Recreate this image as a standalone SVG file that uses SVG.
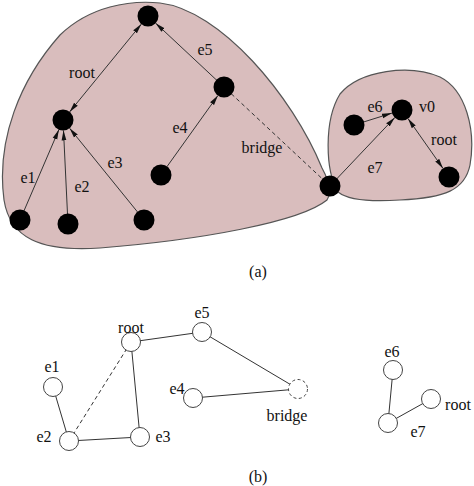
<svg xmlns="http://www.w3.org/2000/svg" width="474" height="486" viewBox="0 0 474 486">
<style>
.blob{fill:#d9bdbd;stroke:#555;stroke-width:1.2}
.dot{fill:#000}
.edge{stroke:#333;stroke-width:1;fill:none}
.dash{stroke:#333;stroke-width:1;fill:none;stroke-dasharray:4,3}
.oc{fill:#fff;stroke:#444;stroke-width:1}
.ocd{fill:#fff;stroke:#444;stroke-width:1;stroke-dasharray:3,2.5}
text{font-family:"Liberation Serif","Times New Roman",serif;font-size:16px;fill:#111}
</style>
<defs>
<marker id="ah" viewBox="0 0 10 6" refX="10" refY="3" markerWidth="10" markerHeight="6" markerUnits="userSpaceOnUse" orient="auto-start-reverse">
<path d="M0,0.6 L10,3 L0,5.4 Z" fill="#111"/>
</marker>
</defs>
<rect width="474" height="486" fill="#fff"/>
<g id="blob-left"><path class="blob" d="M327,200 C300,222 200,240 100,248 C40,252 10,238 4,200 C-4,140 20,80 60,35 C90,6 130,0 160,3 C220,10 292,95 322,168 Q334,190 327,200 Z"/></g>
<g id="blob-right"><path class="blob" d="M338,192 C325,170 324,120 340,94 C360,70 410,64 440,77 C466,90 476,130 470,165 C465,190 445,198 400,200 C370,202 348,200 338,192 Z"/></g>
<g id="connectors">
<line class="edge" x1="141.4" y1="24.1" x2="69.6" y2="111.9" marker-start="url(#ah)" marker-end="url(#ah)"/>
<line class="edge" x1="216.7" y1="80.2" x2="155.7" y2="23.2" marker-end="url(#ah)"/>
<line class="edge" x1="166.8" y1="166.9" x2="217.9" y2="95.5" marker-end="url(#ah)"/>
<line class="edge" x1="24" y1="210.8" x2="58.9" y2="129.6" marker-end="url(#ah)"/>
<line class="edge" x1="67.5" y1="214" x2="63.5" y2="130.5" marker-end="url(#ah)"/>
<line class="edge" x1="137.7" y1="212.2" x2="69.6" y2="128.2" marker-end="url(#ah)"/>
<line class="dash" x1="231.3" y1="93.8" x2="322.7" y2="179.2"/>
<line class="edge" x1="336.9" y1="178.7" x2="394.8" y2="117.6" marker-end="url(#ah)"/>
<line class="edge" x1="363.5" y1="122" x2="392" y2="113.1" marker-end="url(#ah)"/>
<line class="edge" x1="408" y1="118.6" x2="443" y2="168.4" marker-start="url(#ah)" marker-end="url(#ah)"/>
<line class="edge" x1="53" y1="387" x2="69" y2="441"/>
<line class="dash" x1="69" y1="441" x2="131" y2="342"/>
<line class="edge" x1="69" y1="441" x2="140" y2="437"/>
<line class="edge" x1="140" y1="437" x2="131" y2="342"/>
<line class="edge" x1="131" y1="342" x2="202" y2="332"/>
<line class="edge" x1="202" y1="332" x2="298" y2="389"/>
<line class="edge" x1="193" y1="398" x2="298" y2="389"/>
<line class="edge" x1="393" y1="370" x2="388" y2="423"/>
<line class="edge" x1="388" y1="423" x2="431" y2="399"/>
</g>
<g id="a-top"><circle class="dot" cx="148" cy="16" r="10.5"/></g>
<g id="a-root"><circle class="dot" cx="63" cy="120" r="10.5"/></g>
<g id="a-e5"><circle class="dot" cx="224" cy="87" r="10.5"/></g>
<g id="a-e4"><circle class="dot" cx="161" cy="175" r="10.5"/></g>
<g id="a-e1"><circle class="dot" cx="20" cy="220" r="10.5"/></g>
<g id="a-e2"><circle class="dot" cx="68" cy="224" r="10.5"/></g>
<g id="a-e3"><circle class="dot" cx="144" cy="220" r="10.5"/></g>
<g id="a-bridge"><circle class="dot" cx="330" cy="186" r="10.5"/></g>
<g id="a-e6"><circle class="dot" cx="354" cy="125" r="10.5"/></g>
<g id="a-v0"><circle class="dot" cx="402" cy="110" r="10.5"/></g>
<g id="a-root2"><circle class="dot" cx="449" cy="177" r="10.5"/></g>
<g id="a-labels">
<text x="82" y="78" text-anchor="middle">root</text>
<text x="205" y="55" text-anchor="middle">e5</text>
<text x="180" y="133" text-anchor="middle">e4</text>
<text x="28" y="183" text-anchor="middle">e1</text>
<text x="82" y="192" text-anchor="middle">e2</text>
<text x="115" y="168" text-anchor="middle">e3</text>
<text x="262" y="153" text-anchor="middle">bridge</text>
<text x="375" y="173" text-anchor="middle">e7</text>
<text x="375" y="112" text-anchor="middle">e6</text>
<text x="427" y="112" text-anchor="middle">v0</text>
<text x="444" y="145" text-anchor="middle">root</text>
<text x="258" y="277" text-anchor="middle">(a)</text>
</g>
<g id="b-root"><circle class="oc" cx="131" cy="342" r="9.5"/><text x="131" y="333" text-anchor="middle">root</text></g>
<g id="b-e5"><circle class="oc" cx="202" cy="332" r="9.5"/><text x="202" y="318" text-anchor="middle">e5</text></g>
<g id="b-e1"><circle class="oc" cx="53" cy="387" r="9.5"/><text x="52" y="372" text-anchor="middle">e1</text></g>
<g id="b-e2"><circle class="oc" cx="69" cy="441" r="9.5"/><text x="44" y="442" text-anchor="middle">e2</text></g>
<g id="b-e3"><circle class="oc" cx="140" cy="437" r="9.5"/><text x="163" y="442" text-anchor="middle">e3</text></g>
<g id="b-e4"><circle class="oc" cx="193" cy="398" r="9.5"/><text x="177" y="394" text-anchor="middle">e4</text></g>
<g id="b-bridge"><circle class="ocd" cx="298" cy="389" r="9.5"/><text x="287" y="421" text-anchor="middle">bridge</text></g>
<g id="b-e6"><circle class="oc" cx="393" cy="370" r="9.5"/><text x="392" y="357" text-anchor="middle">e6</text></g>
<g id="b-root2"><circle class="oc" cx="431" cy="399" r="9.5"/><text x="458" y="410" text-anchor="middle">root</text></g>
<g id="b-e7"><circle class="oc" cx="388" cy="423" r="9.5"/><text x="418" y="437" text-anchor="middle">e7</text></g>
<text x="258" y="482" text-anchor="middle">(b)</text>
</svg>
